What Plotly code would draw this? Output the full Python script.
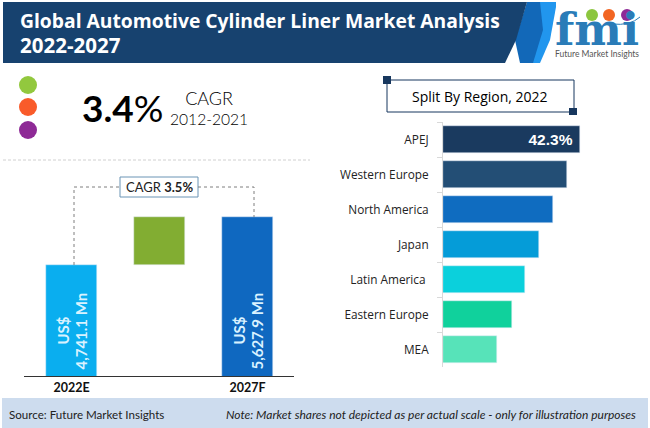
import plotly.graph_objects as go

W = 650
H = 428

# left chart
years = ["2022E", " ", "2027F"]
bar_base = [0, 4741.1, 0]
bar_vals = [4741.1, 886.8, 5627.9]
bar_colors = ["#0aaeef", "#82ad32", "#0f68c0"]
bar_labels = ["4,741.1 Mn", "", "5,627.9 Mn"]

# right chart
regions = ["APEJ", "Western Europe", "North America", "Japan", "Latin America\u00a0", "Eastern Europe", "MEA"]
shares = [42.3, 38.3, 34.0, 29.6, 25.3, 21.3, 16.7]
share_text = ["<b>42.3%</b>\u00a0", "", "", "", "", "", ""]
region_colors = ["#1a3a5f", "#234e75", "#0f6cc0", "#059cd8", "#0bd0dc", "#10d19c", "#57e3b9"]

NAVY = "#17426f"


# pixel helpers, the reference was measured in pixels from the top left
def px(x):
    return x / W


def py(y):
    return 1 - y / H


def rect(x0, y0, x1, y1, color, line=None, layer="below"):
    return dict(type="rect", xref="paper", yref="paper", x0=px(x0), x1=px(x1), y0=py(y0), y1=py(y1),
                fillcolor=color, line=dict(color=line or color, width=1 if line else 0), layer=layer)


def poly(points, color):
    d = "M " + " L ".join(f"{px(a)},{py(b)}" for a, b in points) + " Z"
    return dict(type="path", xref="paper", yref="paper", path=d, fillcolor=color, line=dict(width=0), layer="below")


def dash(points):
    d = "M " + " L ".join(f"{px(a)},{py(b)}" for a, b in points)
    return dict(type="path", xref="paper", yref="paper", path=d, line=dict(color="#7f7f7f", width=1, dash="3px,3px"))


def circle(cx, cy, r, color):
    return dict(type="circle", xref="paper", yref="paper", x0=px(cx - r), x1=px(cx + r), y0=py(cy + r), y1=py(cy - r),
                fillcolor=color, line=dict(width=0))


def label(x, y, text, size, color="#000000", family="Open Sans", anchor="center", **kw):
    return dict(xref="paper", yref="paper", x=px(x), y=py(y), text=text, showarrow=False, xanchor=anchor,
                yanchor="middle", font=dict(size=size, color=color, family=family), **kw)


fig = go.Figure()

fig.add_trace(go.Bar(x=years, y=bar_vals, base=bar_base, width=0.58, marker_color=bar_colors, xaxis="x", yaxis="y"))
fig.add_trace(go.Bar(y=regions, x=shares, orientation="h", width=0.77, marker_color=region_colors,
                     text=share_text, textposition="inside", insidetextanchor="end", textangle=0,
                     textfont=dict(size=15.5, color="#ffffff", family="Liberation Sans"), xaxis="x2", yaxis="y2"))

shapes = [
    poly([(533, 63), (540, 63), (550, 40), (556, 7), (556, 2), (530, 2), (520, 40)], "#2196ee"),
    poly([(520, 63), (533, 63), (543, 30), (540, 2), (527, 2), (515, 40)], "#1268b8"),
    poly([(3, 2), (527, 2), (516, 40), (505, 63), (3, 63)], NAVY),
    circle(28, 85, 9, "#92c83e"),
    circle(28, 107, 9, "#f95b2a"),
    circle(28, 130, 9, "#8e2a96"),
    dict(type="line", xref="paper", yref="paper", x0=px(3), x1=px(310), y0=py(160), y1=py(160),
         line=dict(color="#d0d0d0", width=1, dash="3px,2px")),
    dash([(74, 265), (74, 187), (120, 187)]),
    dash([(198, 187), (254, 187), (254, 217)]),
    rect(120, 177, 198, 197, "#ffffff", "#6a94b5"),
    rect(387, 80, 574, 112, "#ffffff", "#17375e"),
    rect(383, 76, 391, 84, "#17375e", layer="above"),
    rect(569, 108, 577, 115, "#17375e", layer="above"),
    rect(2, 398, 648, 428, "#cddcee"),
]

# logo stripes over the fmi letters, the swoosh and the three dots
logo_stripes = [dict(type="line", xref="paper", yref="paper", x0=px(555), x1=px(640), y0=py(y), y1=py(y),
                     line=dict(color="#ffffff", width=0.8)) for y in range(16, 50, 3)]
logo_swoosh = [dict(type="path", xref="paper", yref="paper", line=dict(color="#2a7cb8", width=1),
                    path=f"M {px(612)},{py(24)} Q {px(630)},{py(26)} {px(640)},{py(17)}")]
logo_dots = [circle(592, 15, 6, "#8cc63f"), circle(609, 15, 6, "#f26522"), circle(627, 15, 6, "#8e2a96")]

annotations = [
    label(18, 33, "<b>Global Automotive Cylinder Liner Market Analysis<br>"
                  "<span style='font-size:20.5px'>2022-2027</span></b>", 19.3, "#ffffff", anchor="left", align="left"),
    label(122, 108, "<b>3.4</b>%", 37, family="Lato"),
    label(209, 108, "<span style='font-size:18px'>CAGR</span><br>2012-2021", 15.6, "#000000", "Lato Light, Lato"),
    label(159, 187, "CAGR <b>3.5%</b>", 13, "#222222", "Lato"),
    label(480, 96, "Split By Region, 2022", 14),
    label(6.5, 414, "Source: Future Market Insights", 11.6, "#222222", "Lato", "left"),
    label(638, 414, "<i>Note: Market shares not depicted as per actual scale - only for illustration purposes</i>",
          12, "#222222", "Lato", "right"),
    label(597, 30, "<b>fmi</b>", 45, "#2a7cb8", "DejaVu Serif"),
    label(597, 54, "Future Market Insights", 8.5, "#555555", "Lato"),
]

# rotated bar labels
for yr, txt in zip(years, bar_labels):
    if txt:
        for line, shift in (("US$", -9), (txt, 9)):
            annotations.append(dict(xref="x", yref="paper", x=yr, y=py(331), xanchor="center", yanchor="middle",
                                    text=f"<b>{line}</b>", textangle=-90, showarrow=False, xshift=shift,
                                    font=dict(size=15, color="#d9f2ff", family="Lato")))

fig.update_layout(
    width=W, height=H, margin=dict(l=0, r=0, t=0, b=0), showlegend=False, bargap=0,
    paper_bgcolor="#ffffff", plot_bgcolor="rgba(0,0,0,0)",
    shapes=shapes + logo_stripes + logo_swoosh + logo_dots, annotations=annotations,
    xaxis=dict(domain=[px(24), px(294)], range=[-0.54, 2.528], type="category", showgrid=False, showline=True,
               linecolor="#333333", linewidth=1, ticks="", tickvals=["2022E", "2027F"],
               tickfont=dict(size=12.5, color="#111111", family="Lato"), ticklabelstandoff=0,
               ticktext=["<b>2022E</b>", "<b>2027F</b>"]),
    yaxis=dict(domain=[py(376), py(160)], range=[2690, 6680], visible=False),
    xaxis2=dict(domain=[px(443), px(640)], range=[0, 60.8], visible=False, anchor="y2"),
    yaxis2=dict(domain=[py(367), py(122)], autorange="reversed", anchor="x2", showgrid=False, showline=True,
                linecolor="#d9d9d9", linewidth=1, ticks="outside", ticklen=5, tickcolor="#d9d9d9",
                tickson="boundaries", ticklabelstandoff=11,
                tickfont=dict(size=11.8, color="#222222", family="Open Sans")),
)

fig.write_html("out.html", config=dict(displayModeBar=False),
               post_script="document.body.style.margin='0';document.body.style.overflow='hidden';")
